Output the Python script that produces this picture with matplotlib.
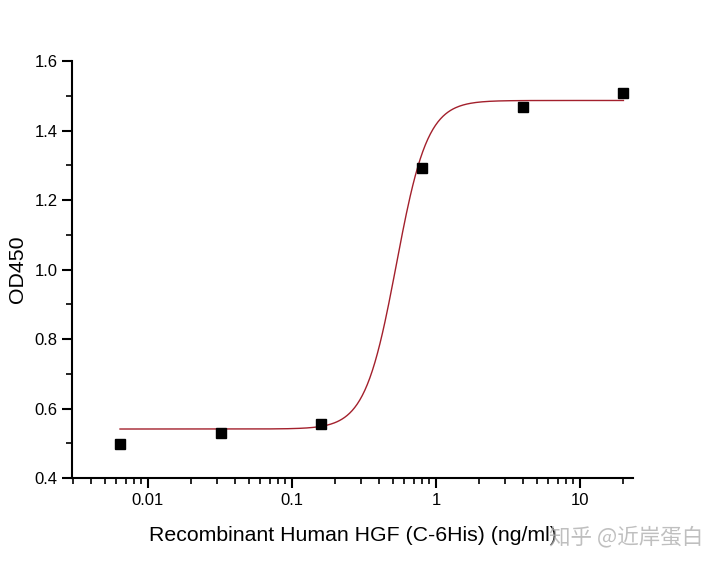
import numpy as np
import matplotlib.pyplot as plt

plt.rcParams["font.family"] = ["Liberation Sans", "DejaVu Sans"]

# measured points
conc = [0.0064, 0.032, 0.16, 0.8, 4.0, 20.0]
od450 = [0.498, 0.530, 0.555, 1.292, 1.468, 1.508]

# 4PL fit parameters
fit_bottom = 0.541
fit_top = 1.487
fit_ec50 = 0.53
fit_hill = 4.0

yticks = [0.4, 0.6, 0.8, 1.0, 1.2, 1.4, 1.6]
xtick_vals = [0.01, 0.1, 1, 10]
xtick_labels = ["0.01", "0.1", "1", "10"]


def logistic4(x):
    return fit_bottom + (fit_top - fit_bottom) / (1 + (fit_ec50 / x) ** fit_hill)


fig = plt.figure(figsize=(7.22, 5.67), dpi=100)
ax = fig.add_axes([0.0997, 0.157, 0.7770, 0.735])

xs = np.logspace(np.log10(conc[0]), np.log10(conc[-1]), 400)
ax.plot(xs, logistic4(xs), color="#A3202C", lw=1.0, zorder=2)
ax.plot(conc, od450, "s", color="black", ms=6.5, zorder=3)

ax.set_xscale("log")
ax.set_xlim(0.00297, 23.3)
ax.set_ylim(0.4, 1.6)
ax.set_yticks(yticks)
ax.set_yticklabels([f"{v:.1f}" for v in yticks])
ax.set_yticks([0.5, 0.7, 0.9, 1.1, 1.3, 1.5], minor=True)
ax.set_xticks(xtick_vals)
ax.set_xticklabels(xtick_labels)

for s in ["top", "right"]:
    ax.spines[s].set_visible(False)
for s in ["left", "bottom"]:
    ax.spines[s].set_linewidth(1.5)

ax.tick_params(which="major", direction="out", length=7, width=1.5, labelsize=12)
ax.tick_params(which="minor", direction="out", length=4, width=1.2)

ax.set_xlabel("Recombinant Human HGF (C-6His) (ng/ml)", fontsize=15.3, labelpad=13)
ax.set_ylabel("OD450", fontsize=15.3, labelpad=5)

fig.text(0.76, 0.052, "知乎 @近岸蛋白", fontsize=15.5, color="#B0B0B0", alpha=0.8,
         family=["Noto Sans CJK SC", "DejaVu Sans"], va="center")

fig.savefig("out.png", dpi=100)
